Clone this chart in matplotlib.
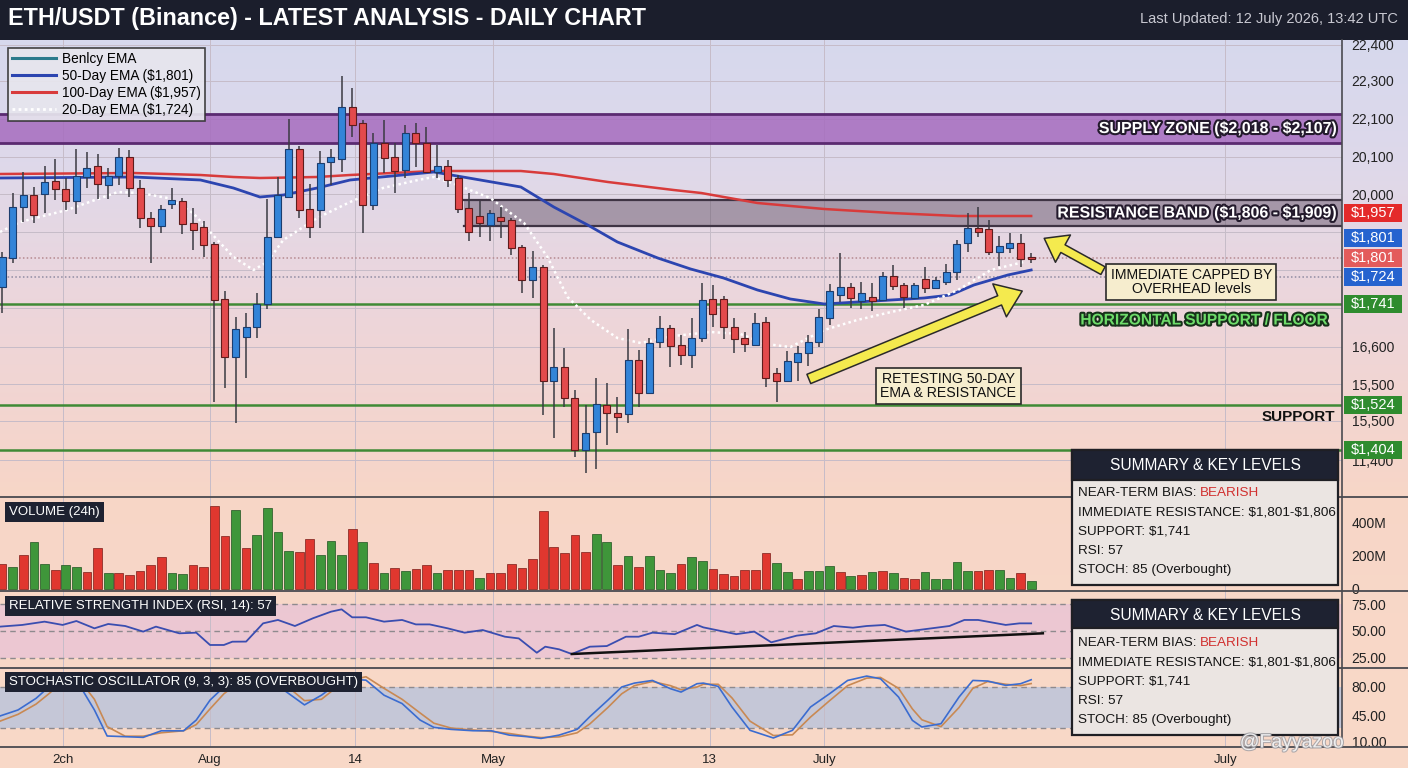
import matplotlib

matplotlib.use("Agg")
import matplotlib.pyplot as plt
import matplotlib.patheffects as pe
import numpy as np
from matplotlib.lines import Line2D
from matplotlib.patches import FancyArrowPatch, Rectangle
from matplotlib.transforms import blended_transform_factory

plt.rcParams["font.family"] = ["Liberation Sans Narrow", "Liberation Sans", "DejaVu Sans"]

W, H = 1408, 768
PLOT_R = 1342          # right edge of the plotting area, px
XLIM = (-0.2, 126.3)   # candle index units
YLIM_PRICE = (1336, 2250)

# ---- daily candles ----
OPEN = [1756, 1814, 1916, 1940, 1942, 1968, 1952, 1928, 1976, 1998,
        1960, 1978, 2016, 1954, 1894, 1878, 1922, 1928, 1884, 1876,
        1842, 1732, 1616, 1656, 1676, 1722, 1856, 1936, 2032, 1912,
        1910, 2006, 2012, 2116, 2084, 1920, 2044, 2016, 1990, 2064,
        2044, 1986, 1998, 1974, 1914, 1898, 1880, 1896, 1890, 1836,
        1770, 1796, 1568, 1596, 1534, 1430, 1466, 1520, 1504, 1502,
        1610, 1544, 1646, 1674, 1640, 1620, 1654, 1732, 1732, 1676,
        1654, 1640, 1686, 1584, 1568, 1606, 1624, 1646, 1694, 1740,
        1756, 1728, 1736, 1730, 1778, 1760, 1734, 1772, 1754, 1766,
        1786, 1844, 1874, 1872, 1826, 1834, 1844, 1816]
HIGH = [1826, 1944, 1986, 1956, 1998, 2012, 1974, 2032, 2026, 2022,
        1994, 2034, 2030, 1970, 1906, 1920, 1954, 1934, 1914, 1888,
        1846, 1748, 1696, 1704, 1744, 1932, 1976, 2092, 2038, 1962,
        2028, 2032, 2178, 2154, 2090, 2064, 2090, 2044, 2080, 2084,
        2076, 2040, 2010, 1980, 1944, 1928, 1910, 1916, 1894, 1840,
        1828, 1800, 1674, 1634, 1550, 1520, 1574, 1564, 1536, 1672,
        1630, 1654, 1698, 1680, 1660, 1694, 1764, 1760, 1738, 1694,
        1666, 1704, 1696, 1594, 1628, 1638, 1660, 1712, 1762, 1824,
        1764, 1766, 1764, 1786, 1800, 1764, 1764, 1796, 1776, 1802,
        1850, 1904, 1916, 1890, 1858, 1864, 1862, 1824]
LOW = [1704, 1804, 1886, 1884, 1904, 1930, 1910, 1902, 1954, 1932,
       1932, 1960, 1936, 1874, 1804, 1864, 1912, 1862, 1830, 1816,
       1526, 1554, 1484, 1574, 1654, 1712, 1854, 1936, 1894, 1854,
       1874, 1960, 1986, 2056, 1864, 1910, 1984, 1944, 1974, 1996,
       1984, 1974, 1956, 1904, 1848, 1856, 1848, 1854, 1820, 1744,
       1734, 1500, 1454, 1516, 1416, 1384, 1392, 1440, 1464, 1484,
       1516, 1544, 1634, 1596, 1600, 1594, 1646, 1676, 1652, 1624,
       1626, 1640, 1556, 1526, 1568, 1568, 1598, 1636, 1680, 1726,
       1714, 1712, 1708, 1730, 1750, 1714, 1734, 1744, 1754, 1760,
       1770, 1826, 1856, 1820, 1798, 1824, 1796, 1804]
CLOSE = [1816, 1916, 1940, 1900, 1966, 1952, 1928, 1978, 1994, 1962,
         1978, 2016, 1954, 1894, 1878, 1912, 1930, 1882, 1870, 1840,
         1730, 1616, 1672, 1676, 1722, 1856, 1940, 2032, 1910, 1876,
         2004, 2016, 2116, 2080, 1920, 2044, 2014, 1988, 2064, 2044,
         1986, 1998, 1970, 1912, 1866, 1884, 1904, 1888, 1834, 1770,
         1796, 1568, 1596, 1534, 1430, 1464, 1522, 1504, 1496, 1610,
         1544, 1644, 1674, 1638, 1620, 1654, 1730, 1702, 1676, 1652,
         1642, 1684, 1574, 1568, 1608, 1624, 1646, 1696, 1748, 1756,
         1734, 1744, 1728, 1778, 1758, 1736, 1760, 1754, 1770, 1786,
         1842, 1874, 1866, 1826, 1838, 1844, 1812, 1812]

# ---- moving averages: (candle index, level) ----
EMA50_X = [-0.2, 12.4, 18.7, 21.8, 24.3, 26.5, 29.7, 32.8, 40.7, 48.9, 52, 55.2, 58,
           61.8, 64.9, 68, 71.2, 74.3, 77.5, 80.6, 83.8, 86.9, 89.4, 91.6, 94.8, 97]
EMA50_Y = [1974, 1976, 1970, 1954, 1936, 1940, 1954, 1970, 1986, 1956, 1916, 1880, 1846,
           1814, 1792, 1774, 1750, 1732, 1722, 1726, 1730, 1734, 1740, 1760, 1780, 1790]
EMA100_X = [-0.2, 12.4, 18.7, 21.8, 24.3, 29.7, 32.8, 40.7, 48.9, 52, 57.1, 63.3, 65.9,
            71.2, 77.5, 83.8, 90.1, 97]
EMA100_Y = [1982, 1984, 1980, 1976, 1974, 1976, 1980, 1988, 1988, 1982, 1966, 1950, 1944,
            1924, 1912, 1904, 1898, 1898]
EMA20_X = [-0.2, 1.7, 6.1, 10.9, 13, 15.6, 18, 20.3, 21.8, 23.7, 25, 26.5, 29.7, 32.8,
           35.9, 39.2, 40.7, 42.9, 46, 49.2, 51.4, 53.3, 55.5, 58, 60.2, 63.3, 66.8, 69.6,
           72, 74.3, 77.5, 80.6, 83.8, 86.9, 90.1, 93.2, 96.3]
EMA20_Y = [1866, 1886, 1910, 1946, 1944, 1934, 1904, 1850, 1816, 1790, 1806, 1850, 1894,
           1926, 1954, 1970, 1976, 1960, 1934, 1884, 1816, 1736, 1690, 1654, 1644, 1658,
           1666, 1662, 1642, 1636, 1670, 1690, 1706, 1720, 1750, 1790, 1806]
LEGEND_LABELS = ["Benlcy EMA", "50-Day EMA ($1,801)", "100-Day EMA ($1,957)", "20-Day EMA ($1,724)"]

# ---- zones and levels ----
SUPPLY_ZONE = (2044, 2102)
RESIST_BAND = (1878, 1930)
RESIST_START = 43.5
SUPPORT_LEVELS = [1722, 1520, 1430]
DOTTED_LEVELS = [1814, 1776]
TAG_TEXT = ["$1,957", "$1,801", "$1,801", "$1,724", "$1,741", "$1,524", "$1,404"]
TAG_LEVEL = [1904, 1854, 1814, 1776, 1722, 1520, 1430]
TAG_COLOR = ["#e42a2a", "#2563cf", "#e35b5b", "#2563cf", "#2f8c2f", "#2f8c2f", "#2f8c2f"]
PRICE_TICKS = [2240, 2168, 2092, 2016, 1942, 1866, 1790, 1714, 1636, 1562, 1488, 1410]
PRICE_LABELS = ["22,400", "22,300", "22,100", "20,100", "20,000", "", "", "",
                "16,600", "15,500", "15,500", "11,400"]

# ---- volume, M (R = red bar, G = green bar) ----
VOLUME = [150, 134, 204, 280, 150, 114, 144, 130, 102, 244,
          94, 94, 84, 108, 144, 190, 94, 90, 144, 130,
          498, 318, 474, 244, 324, 484, 344, 228, 224, 300,
          204, 290, 204, 360, 284, 158, 94, 128, 108, 120,
          146, 94, 114, 114, 114, 64, 98, 94, 150, 124,
          178, 470, 250, 218, 322, 224, 330, 284, 144, 198,
          134, 198, 114, 94, 150, 194, 168, 120, 88, 78,
          114, 114, 214, 154, 104, 58, 110, 110, 140, 104,
          78, 84, 104, 108, 94, 64, 58, 100, 58, 58,
          160, 110, 108, 114, 114, 64, 94, 50]
VOL_DIR = ("RGRGGRGGRR" "GRRRRRGGRR" "RRGRGGGGRR" "GGGRGRGRGR" "RGRRRGRRRR"
           "RRRRRRGGRG" "RGGGRGGRRR" "RRRGGRGGGR" "GRGRGRRGGG" "GGRRGGRG")

# ---- RSI(14) ----
RSI_X = [-0.2, 1.9, 4, 5.7, 7, 8.7, 10, 11.6, 13.3, 14.5, 16.7, 18.3, 19.6, 20.9, 21.7,
         23, 24.6, 26, 27.6, 29.3, 31, 32, 33, 34.3, 36, 37.7, 39, 40.3, 42, 43.6, 45.3,
         47.4, 48.7, 50.4, 51.2, 52.5, 53.7, 55.4, 57, 58.8, 60, 61.3, 63.4, 65.5, 66.1,
         69.2, 70.9, 72.5, 74.9, 76.7, 78.4, 80.2, 81.5, 83.2, 85.2, 87.6, 89.3, 90.7, 92,
         94.6, 95.9, 97]
RSI_Y = [54.1, 55.7, 58.8, 55.7, 59.4, 52.5, 56.6, 54.7, 49.4, 54.1, 47.8, 48.4, 36.8,
         36.8, 39.9, 40, 57.2, 60.4, 54.7, 62, 68.2, 70.4, 62.9, 62.9, 58.8, 60.4, 56.2,
         56.2, 52.5, 48.4, 50.9, 44.6, 43, 29.5, 35.2, 32.7, 28.3, 35.2, 35.8, 44.6, 44.6,
         48.4, 47, 55.7, 53.4, 47, 49.4, 39.3, 45.6, 47.8, 54.7, 53.1, 54.7, 55.7, 49.4,
         52.5, 54.7, 60.4, 60.4, 55.7, 57.2, 57.2]
RSI_TREND_X = [53.7, 98.1]
RSI_TREND_Y = [28.3, 47.8]

# ---- stochastic (9, 3, 3) ----
STOCH_X = [-0.2, 1.5, 3.2, 4.4, 5.7, 7.4, 8.7, 9.9, 11.6, 13.3, 15, 17.1, 18.3, 19.6,
           20.9, 22.6, 25.1, 26.8, 28.5, 30.1, 32.2, 34.3, 36, 37.7, 39.4, 40.7, 42.3,
           44.4, 46.1, 47.8, 49.5, 50.8, 52.5, 54.2, 55.4, 57.1, 58.4, 59.6, 61.3, 63,
           64, 65.5, 66.1, 67.5, 68.8, 70.5, 72.7, 74.5, 76.2, 78, 79.7, 81.5, 82.8, 84.5,
           85.8, 86.7, 88.5, 90.2, 91.5, 92.9, 94.6, 96, 97]
STOCH_K = [37.6, 46.4, 63.4, 80, 95, 80, 46.4, 8.3, 7.3, 6.3, 15.9, 15.9, 31.6, 60.8,
           80, 95, 92, 72.8, 53.8, 68, 92, 90, 68, 55.8, 31.6, 20.9, 18, 16, 16, 9.6,
           7.3, 4.8, 9.6, 18, 36.6, 60.8, 80, 85.7, 89.6, 77.5, 72.6, 84.8, 85.7, 80.9,
           50.7, 16.6, 5.4, 16.6, 50.7, 70.2, 89.6, 96, 92, 65.3, 31.2, 21.5, 26.3, 65.3,
           89.6, 88.7, 82.4, 84.8, 90.6]
STOCH_D = [30, 40, 55, 70, 88, 88, 62, 22, 8, 8, 13, 16, 25, 48, 70, 90, 95, 82, 60, 62,
           88, 95, 78, 62, 42, 27, 20, 17, 15, 12, 8, 6, 7, 13, 26, 50, 70, 82, 88, 82,
           76, 80, 84, 84, 64, 30, 9, 10, 36, 60, 82, 93, 94, 78, 48, 32, 22, 50, 78, 88,
           84, 82, 85]

X_TICKS = [5.75, 19.6, 33.3, 46.3, 66.7, 77.5, 115.3]
X_LABELS = ["2ch", "Aug", "14", "May", "13", "July", "July"]

SUMMARY_LINES = ["IMMEDIATE RESISTANCE: $1,801-$1,806", "SUPPORT: $1,741", "RSI: 57",
                 "STOCH: 85 (Overbought)"]

# ---- colours ----
C_UP, C_UP_EDGE = "#3384d8", "#1c3d6e"
C_DN, C_DN_EDGE = "#e34a4c", "#5e1c1c"
C_WICK = "#3a3a42"
C_EMA50, C_EMA100 = "#2c45b0", "#d83b3b"
C_VOL_R, C_VOL_G = "#e0372f", "#3f963a"
GRID = "#c6bcc8"
DARK = "#1e2231"
OUTLINE = [pe.withStroke(linewidth=3, foreground="#231a2c")]


def px_axes(fig, x0, y0, x1, y1, **kw):
    return fig.add_axes([x0 / W, 1 - y1 / H, (x1 - x0) / W, (y1 - y0) / H], **kw)


def clean(ax):
    ax.set_facecolor("none")
    for sp in ax.spines.values():
        sp.set_visible(False)
    ax.yaxis.tick_right()
    ax.tick_params(axis="y", length=0, pad=7, labelsize=10, labelcolor="#222222")
    ax.tick_params(axis="x", length=0)
    ax.set_xlim(*XLIM)
    for x in X_TICKS:
        ax.axvline(x, color=GRID, lw=0.7, zorder=0.5)


fig = plt.figure(figsize=(W / 100, H / 100), dpi=100)

# background gradient, lavender at the top of the price panel to peach below
bg = fig.add_axes([0, 0, 1, 1], zorder=0)
rows = np.arange(H)
stops_y = [40, 160, 280, 400, 497, 768]
stops_c = [(0.84, 0.85, 0.93), (0.87, 0.85, 0.92), (0.92, 0.84, 0.87),
           (0.95, 0.835, 0.82), (0.97, 0.84, 0.78), (0.976, 0.851, 0.784)]
grad = np.stack([np.interp(rows, stops_y, [c[k] for c in stops_c]) for k in range(3)], axis=-1)
bg.imshow(grad[:, None, :], extent=[0, W, H, 0], aspect="auto", interpolation="bilinear")
bg.set_xlim(0, W)
bg.set_ylim(H, 0)
bg.axis("off")

# ---- price panel ----
ax = px_axes(fig, 0, 40, PLOT_R, 497, zorder=2)
clean(ax)
ax.set_ylim(*YLIM_PRICE)
ax.set_yticks(PRICE_TICKS, PRICE_LABELS)
ax.set_xticks([])
for y in PRICE_TICKS:
    ax.axhline(y, color=GRID, lw=0.7, zorder=0.5)

ax.axhspan(*SUPPLY_ZONE, color="#a66cbf", alpha=0.85, lw=0, zorder=1)
for y in SUPPLY_ZONE:
    ax.axhline(y, color="#5a2a70", lw=2, zorder=1.2)
ax.add_patch(Rectangle((RESIST_START, RESIST_BAND[0]), XLIM[1] - RESIST_START,
                       RESIST_BAND[1] - RESIST_BAND[0], fc="#5b4a5f", alpha=0.45,
                       ec="none", zorder=1))
for y in RESIST_BAND:
    ax.plot([RESIST_START, XLIM[1]], [y, y], color="#3f3444", lw=1.6, zorder=1.2)
for y in SUPPORT_LEVELS:
    ax.axhline(y, color="#3f8a35", lw=1.8, zorder=1.2)
ax.axhline(DOTTED_LEVELS[0], color="#b58a90", lw=1.1, ls=(0, (1, 1.5)), zorder=1.2)
ax.axhline(DOTTED_LEVELS[1], color="#8f8ca2", lw=1.1, ls=(0, (1, 1.5)), zorder=1.2)

ax.plot(EMA100_X, EMA100_Y, color=C_EMA100, lw=1.8, zorder=3)
ax.plot(EMA50_X, EMA50_Y, color=C_EMA50, lw=2.0, zorder=3)
ax.plot(EMA20_X, EMA20_Y, color="white", lw=1.8, ls=(0, (1, 1.3)), zorder=3)

idx = np.arange(len(OPEN))
o, h, l, c = (np.asarray(v, dtype=float) for v in (OPEN, HIGH, LOW, CLOSE))
up = c >= o
ax.vlines(idx, l, h, color=C_WICK, lw=1.1, zorder=4)
ax.bar(idx[up], (c - o)[up], bottom=o[up], width=0.66, color=C_UP,
       edgecolor=C_UP_EDGE, lw=0.8, zorder=5)
ax.bar(idx[~up], (o - c)[~up], bottom=c[~up], width=0.66, color=C_DN,
       edgecolor=C_DN_EDGE, lw=0.8, zorder=5)

# level tags on the price scale
tr = blended_transform_factory(ax.transAxes, ax.transData)
tag_w = 58 / PLOT_R
for txt, y, col in zip(TAG_TEXT, TAG_LEVEL, TAG_COLOR):
    ax.add_patch(Rectangle((1.0018, y - 18), tag_w, 36, transform=tr, fc=col, ec="none",
                           clip_on=False, zorder=8))
    ax.text(1.0018 + tag_w / 2, y, txt, transform=tr, ha="center", va="center",
            color="white", fontsize=10.5, clip_on=False, zorder=9, parse_math=False)

ax.text(0.997, sum(SUPPLY_ZONE) / 2, "SUPPLY ZONE ($2,018 - $2,107)", transform=tr,
        ha="right", va="center", color="white", fontsize=11.5, fontweight="bold",
        path_effects=OUTLINE, zorder=9, parse_math=False)
ax.text(0.997, sum(RESIST_BAND) / 2, "RESISTANCE BAND ($1,806 - $1,909)", transform=tr,
        ha="right", va="center", color="white", fontsize=11.5, fontweight="bold",
        path_effects=OUTLINE, zorder=9, parse_math=False)
ax.text(113.2, 1690, "HORIZONTAL SUPPORT / FLOOR", ha="center", va="center",
        color="#6edc6a", fontsize=11.2, fontweight="bold",
        path_effects=[pe.withStroke(linewidth=3, foreground="#17311a")], zorder=9)
ax.text(0.995, 1496, "SUPPORT", transform=tr, ha="right", va="center", color="#111111",
        fontsize=11, fontweight="bold", zorder=9)

# callouts
ax.add_patch(FancyArrowPatch((104.0, 1786), (98.0, 1856),
                             arrowstyle="simple,head_length=1.1,head_width=1.6,tail_width=0.45",
                             mutation_scale=14, fc="#f4ea4e", ec="#2a2a2a", lw=1.1, zorder=9))
ax.add_patch(FancyArrowPatch((75.8, 1570), (96.4, 1750),
                             arrowstyle="simple,head_length=1.1,head_width=1.6,tail_width=0.45",
                             mutation_scale=16, fc="#f4ea4e", ec="#2a2a2a", lw=1.1, zorder=9))
box = dict(boxstyle="square,pad=0.3", fc="#f6edce", ec="#2a2a2a", lw=1.2)
ax.text(112.1, 1766, "IMMEDIATE CAPPED BY\nOVERHEAD levels", ha="center", va="center",
        fontsize=10.2, linespacing=1.0, color="#111111", bbox=box, zorder=10)
ax.text(89.2, 1558, "RETESTING 50-DAY\nEMA & RESISTANCE", ha="center", va="center",
        fontsize=10.2, linespacing=1.0, color="#111111", bbox=box, zorder=10)

handles = [Line2D([], [], color="#2b7a8c", lw=2.2), Line2D([], [], color=C_EMA50, lw=2.2),
           Line2D([], [], color=C_EMA100, lw=2.2),
           Line2D([], [], color="white", lw=2, ls=(0, (1, 1.2)))]
leg = ax.legend(handles, LEGEND_LABELS, loc="upper left", bbox_to_anchor=(0.006, 0.983),
                fontsize=9.8, frameon=True, fancybox=False, framealpha=0.92,
                facecolor="#e7e6ee", edgecolor="#333333", borderpad=0.3, labelspacing=0.22,
                handlelength=3.2, handletextpad=0.5, borderaxespad=0)
leg.get_frame().set_linewidth(1.2)
leg.set_zorder(20)

# ---- volume ----
axv = px_axes(fig, 0, 497, PLOT_R, 591, zorder=2)
clean(axv)
axv.set_ylim(-12, 552)
axv.set_yticks([400, 200, 0], ["400M", "200M", "0"])
axv.set_xticks([])
vcol = [C_VOL_R if d == "R" else C_VOL_G for d in VOL_DIR]
vedge = ["#7a1d18" if d == "R" else "#1f5220" for d in VOL_DIR]
axv.bar(np.arange(len(VOLUME)), VOLUME, width=0.82, color=vcol, edgecolor=vedge, lw=0.5,
        zorder=3)

# ---- RSI ----
axr = px_axes(fig, 0, 591, PLOT_R, 668, zorder=2)
clean(axr)
axr.set_ylim(15.1, 87.7)
axr.set_yticks([75, 50, 25], ["75.00", "50.00", "25.00"])
axr.set_xticks([])
axr.axhspan(25, 75, color="#e8c2d6", alpha=0.75, lw=0, zorder=0.3)
for y in (75, 50, 25):
    axr.axhline(y, color="#8e8a8e", lw=1, ls=(0, (4, 3)), zorder=1)
axr.plot(RSI_X, RSI_Y, color="#3a4db0", lw=1.3, zorder=3)
axr.plot(RSI_TREND_X, RSI_TREND_Y, color="#111111", lw=1.8, zorder=3)

# ---- stochastic ----
axs = px_axes(fig, 0, 668, PLOT_R, 747, zorder=2)
clean(axs)
axs.set_ylim(-7.8, 107.8)
axs.set_yticks([80, 38, 0], ["80.00", "45.00", "10.00"])
axs.axhspan(20, 80, color="#c3c7d8", alpha=0.95, lw=0, zorder=0.3)
for y in (80, 20):
    axs.axhline(y, color="#8e8a8e", lw=1, ls=(0, (4, 3)), zorder=1)
axs.plot(STOCH_X, STOCH_D, color="#c98953", lw=1.2, zorder=3)
axs.plot(STOCH_X, STOCH_K, color="#3b6cd0", lw=1.2, zorder=3)
axs.set_xticks(X_TICKS, X_LABELS)
axs.tick_params(axis="x", labelsize=9.5, labelcolor="#222222", pad=5)

# ---- overlay: header, panel labels, summaries, separators ----
ov = fig.add_axes([0, 0, 1, 1], zorder=10)
ov.set_xlim(0, W)
ov.set_ylim(H, 0)
ov.axis("off")
ov.patch.set_alpha(0)

ov.add_patch(Rectangle((0, 0), W, 40, fc="#1b1e2c", ec="none"))
ov.text(8, 19, "ETH/USDT (Binance) - LATEST ANALYSIS - DAILY CHART", color="white",
        fontsize=16.8, fontweight="bold", va="center", ha="left")
ov.text(1398, 19, "Last Updated: 12 July 2026, 13:42 UTC", color="#c9c9d2", fontsize=10.5,
        va="center", ha="right")

for y in (497, 591, 668, 747):
    ov.plot([0, W], [y, y], color="#4a4a50", lw=1.3, zorder=1)
ov.plot([PLOT_R, PLOT_R], [40, 747], color="#4a4a50", lw=1.2, zorder=1)

lab = dict(boxstyle="square,pad=0.3", fc=DARK, ec="none")
ov.text(9, 512, "VOLUME (24h)", color="white", fontsize=9.5, va="center", bbox=lab)
ov.text(9, 606, "RELATIVE STRENGTH INDEX (RSI, 14): 57", color="white", fontsize=9.5,
        va="center", bbox=lab)
ov.text(9, 682, "STOCHASTIC OSCILLATOR (9, 3, 3): 85 (OVERBOUGHT)", color="white",
        fontsize=9.5, va="center", bbox=lab)


def summary_box(y0, y1, head_h):
    x0, x1 = 1072, 1338
    ov.add_patch(Rectangle((x0, y0), x1 - x0, y1 - y0, fc="#ebe5e2", ec="#1f1f24", lw=1.6,
                           zorder=3))
    ov.add_patch(Rectangle((x0, y0), x1 - x0, head_h, fc=DARK, ec="#1f1f24", lw=1.6,
                           zorder=3))
    ov.text((x0 + x1) / 2, y0 + head_h / 2 + 1, "SUMMARY & KEY LEVELS", color="white",
            fontsize=11.2, ha="center", va="center", zorder=4)
    ty = y0 + 43
    step = 19.3
    t = ov.text(x0 + 6, ty, "NEAR-TERM BIAS: ", color="#141414", fontsize=9.7, va="center",
                zorder=4)
    ov.annotate("BEARISH", xy=(1, 0.5), xycoords=t, va="center", ha="left",
                color="#d1302f", fontsize=9.7, zorder=4)
    for k, s in enumerate(SUMMARY_LINES):
        ov.text(x0 + 6, ty + step * (k + 1), s, color="#141414", fontsize=9.7, va="center",
                parse_math=False, zorder=4)


summary_box(450, 585, 30)
summary_box(600, 735, 28)

ov.text(1292, 743, "@Fayyazoo", color="white", alpha=0.8, fontsize=14, ha="center",
        va="center", zorder=5,
        path_effects=[pe.withStroke(linewidth=1.5, foreground="#9a9aa0")])

fig.savefig("out.png", dpi=100)
